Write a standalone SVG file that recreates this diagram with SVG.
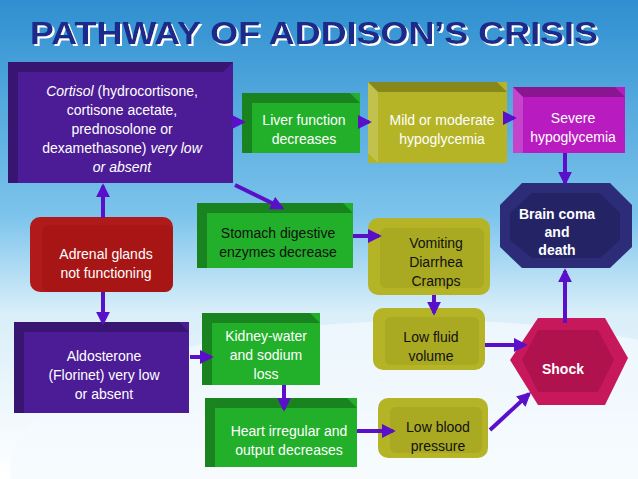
<svg xmlns="http://www.w3.org/2000/svg" width="638" height="479" viewBox="0 0 638 479">
<defs>
<linearGradient id="sky" x1="0" y1="0" x2="0" y2="1">
<stop offset="0" stop-color="#2f8fd0"/><stop offset="0.45" stop-color="#7cc4ec"/><stop offset="0.65" stop-color="#d8eef9"/><stop offset="1" stop-color="#ffffff"/>
</linearGradient>
<filter id="sh" x="-5%" y="-20%" width="110%" height="150%"><feDropShadow dx="2" dy="2" stdDeviation="0.3" flood-color="#ffffff"/></filter>
<marker id="ah" viewBox="0 0 10 10" refX="8" refY="5" markerWidth="3.5" markerHeight="3.5" orient="auto"><path d="M0,0L10,5L0,10z" fill="#5a10c8"/></marker>
<style>
.t{font-family:"Liberation Sans",Arial,sans-serif;font-size:14px;text-anchor:middle}
.w{fill:#fff}.k{fill:#111}
.c line{stroke:#5a10c8;stroke-width:4;marker-end:url(#ah)}
.bev{fill:#000;opacity:0.25}
.lite{fill:#fff;opacity:0.18}
</style>
</defs>
<rect width="638" height="479" fill="url(#sky)"/>
<ellipse cx="430" cy="470" rx="420" ry="150" fill="#f4fafe" opacity="0.7"/>
<text x="30" y="44" font-family="Liberation Sans,Arial,sans-serif" font-size="31" font-weight="bold" fill="#1a2a8a" textLength="568" lengthAdjust="spacingAndGlyphs" filter="url(#sh)">PATHWAY OF ADDISON’S CRISIS</text>

<g id="cortisol">
<rect x="8" y="62" width="225" height="121" fill="#4b1c96"/>
<polygon class="bev" points="8,62 233,62 223,72 18,72"/><polygon class="bev" points="8,62 18,72 18,183 8,183"/>
<text class="t w" x="122" y="96"><tspan font-style="italic">Cortisol</tspan> (hydrocortisone,</text>
<text class="t w" x="122" y="115">cortisone acetate,</text>
<text class="t w" x="122" y="134">prednosolone or</text>
<text class="t w" x="122" y="153">dexamethasone) <tspan font-style="italic">very low</tspan></text>
<text class="t w" x="122" y="172" font-style="italic">or absent</text>
</g>
<g id="liver">
<rect x="242" y="93" width="118" height="60" fill="#22b02a"/>
<polygon class="bev" points="242,93 350,93 360,103 252,103"/><polygon class="bev" points="242,93 252,103 252,153 242,153"/>
<text class="t w" x="304" y="125">Liver function</text><text class="t w" x="304" y="144">decreases</text>
</g>
<g id="mild">
<rect x="368" y="82" width="139" height="81" fill="#b4b426"/>
<polygon class="bev" points="368,82 497,82 507,92 378,92"/><polygon class="lite" points="368,82 378,92 378,163 368,153"/>
<text class="t w" x="442" y="125">Mild or moderate</text><text class="t w" x="442" y="144">hypoglycemia</text>
</g>
<g id="severe">
<rect x="513" y="87" width="112" height="66" fill="#b81cc0"/>
<polygon class="bev" points="513,87 615,87 625,97 523,97"/><polygon class="lite" points="513,87 523,97 523,153 513,153"/>
<text class="t w" x="573" y="123">Severe</text><text class="t w" x="573" y="142">hypoglycemia</text>
</g>
<g id="brain">
<polygon points="522,183 610,183 632,205 632,247 610,268 522,268 500,247 500,205" fill="#2c2c78"/>
<polygon points="532,193 600,193 620,213 620,240 600,258 532,258 510,240 510,213" fill="#232366"/>
<text class="t w" x="557" y="219" font-weight="bold">Brain coma</text><text class="t w" x="557" y="237" font-weight="bold">and</text><text class="t w" x="557" y="255" font-weight="bold">death</text>
</g>
<g id="adrenal">
<rect x="30" y="217" width="143" height="75" rx="10" fill="#b01a1a"/>
<rect x="42" y="225" width="131" height="67" rx="8" fill="#a81515"/>
<text class="t w" x="106" y="259">Adrenal glands</text><text class="t w" x="106" y="278">not functioning</text>
</g>
<g id="stomach">
<rect x="197" y="203" width="156" height="65" fill="#22b02a"/>
<polygon class="bev" points="197,203 343,203 353,213 207,213"/><polygon class="bev" points="197,203 207,213 207,268 197,268"/>
<text class="t k" x="278" y="238">Stomach digestive</text><text class="t k" x="278" y="257">enzymes decrease</text>
</g>
<g id="vomiting">
<rect x="368" y="218" width="122" height="77" rx="10" fill="#b4b426"/>
<rect x="380" y="228" width="104" height="60" rx="6" fill="#aaaa22"/>
<text class="t k" x="436" y="248">Vomiting</text><text class="t k" x="436" y="267">Diarrhea</text><text class="t k" x="436" y="286">Cramps</text>
</g>
<g id="aldosterone">
<rect x="14" y="322" width="175" height="91" fill="#4b1c96"/>
<polygon class="bev" points="14,322 179,322 189,332 24,332"/><polygon class="bev" points="14,322 24,332 24,413 14,413"/>
<text class="t w" x="104" y="361">Aldosterone</text><text class="t w" x="104" y="380">(Florinet) very low</text><text class="t w" x="104" y="399">or absent</text>
</g>
<g id="kidney">
<rect x="202" y="313" width="118" height="72" fill="#22b02a"/>
<polygon class="bev" points="202,313 310,313 320,323 212,323"/><polygon class="bev" points="202,313 212,323 212,385 202,385"/>
<text class="t w" x="266" y="341">Kidney-water</text><text class="t w" x="266" y="360">and sodium</text><text class="t w" x="266" y="379">loss</text>
</g>
<g id="lowfluid">
<rect x="373" y="308" width="112" height="62" rx="10" fill="#b4b426"/>
<rect x="385" y="317" width="94" height="48" rx="6" fill="#aaaa22"/>
<text class="t k" x="431" y="342">Low fluid</text><text class="t k" x="431" y="361">volume</text>
</g>
<g id="shock">
<polygon points="538,318 605,318 628,358 605,405 538,405 510,360" fill="#c8185c"/>
<polygon points="538,330 598,330 614,360 598,392 538,392 522,360" fill="#b0124e"/>
<text class="t w" x="563" y="374" font-weight="bold">Shock</text>
</g>
<g id="heart">
<rect x="205" y="398" width="152" height="69" fill="#22b02a"/>
<polygon class="bev" points="205,398 347,398 357,408 215,408"/><polygon class="bev" points="205,398 215,408 215,467 205,467"/>
<text class="t w" x="289" y="436">Heart irregular and</text><text class="t w" x="289" y="455">output decreases</text>
</g>
<g id="lowblood">
<rect x="378" y="398" width="110" height="60" rx="10" fill="#b4b426"/>
<rect x="390" y="407" width="92" height="46" rx="6" fill="#aaaa22"/>
<text class="t k" x="438" y="432">Low blood</text><text class="t k" x="438" y="451">pressure</text>
</g>

<g class="c">
<line x1="233" y1="122" x2="243" y2="122"/>
<line x1="360" y1="122" x2="369" y2="122"/>
<line x1="507" y1="118" x2="514" y2="118"/>
<line x1="565" y1="153" x2="565" y2="183"/>
<line x1="235" y1="185" x2="282" y2="208"/>
<line x1="103" y1="218" x2="103" y2="186"/>
<line x1="103" y1="292" x2="103" y2="323"/>
<line x1="353" y1="236" x2="379" y2="236"/>
<line x1="434" y1="295" x2="434" y2="313"/>
<line x1="485" y1="345" x2="525" y2="345"/>
<line x1="190" y1="357" x2="211" y2="357"/>
<line x1="284" y1="385" x2="284" y2="409"/>
<line x1="357" y1="431" x2="393" y2="431"/>
<line x1="490" y1="430" x2="529" y2="394"/>
<line x1="565" y1="323" x2="565" y2="271"/>
</g>
</svg>
